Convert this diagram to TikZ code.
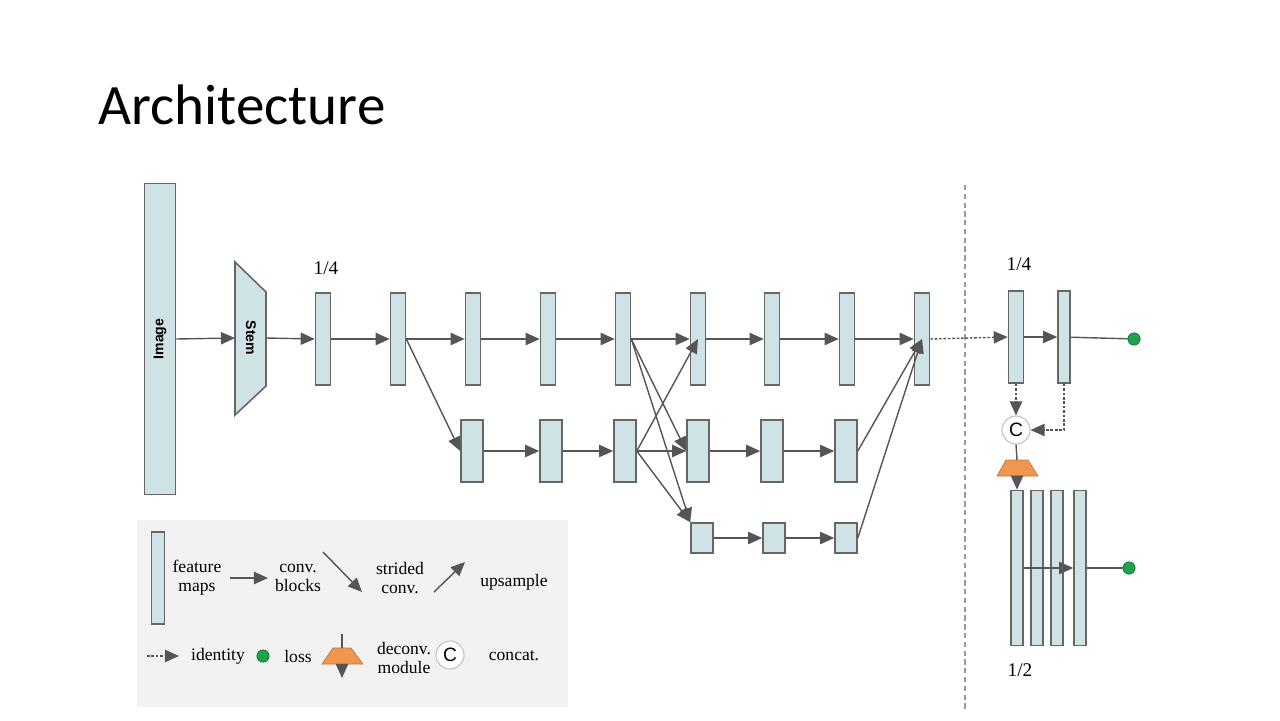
\documentclass[tikz,border=0pt]{standalone}
\usepackage{fontspec}
\setmainfont{Liberation Serif}
\newfontfamily\titlefont{Carlito}
\newfontfamily\sansf{Liberation Sans}
\usetikzlibrary{arrows.meta,shapes.geometric}
\definecolor{fm}{HTML}{CFE3E5}
\definecolor{ln}{HTML}{555555}
\definecolor{bd}{HTML}{666666}
\definecolor{org}{HTML}{F0964E}
\definecolor{grn}{HTML}{1FA34A}
\begin{document}
\begin{tikzpicture}[x=0.02cm,y=-0.02cm,
 fmap/.style={draw=bd,fill=fm,line width=0.9pt,inner sep=0,minimum width=#1*0.02cm},
 h/.style={minimum height=#1*0.02cm},
 ar/.style={draw=ln,line width=0.8pt,-{Triangle[length=8pt,width=7pt]}},
 dar/.style={ar,dash pattern=on 1.5pt off 1pt},
 dot/.style={circle,fill=grn,draw=grn!70!black,inner sep=0,minimum size=7pt},
 cc/.style={circle,draw=fm!70!gray,fill=white,line width=0.6pt,minimum size=28*0.02cm,inner sep=0,font=\sansf\fontsize{11}{11}\selectfont},
 lbl/.style={font=\fontsize{10}{11}\selectfont,align=center},
 trap/.style={fill=org,draw=org!80!black,line width=0.4pt}]
\useasboundingbox (0,0) rectangle (1280,720);
\node[anchor=base west,font=\titlefont\fontsize{32.5}{32.5}\selectfont,inner xsep=0] (title) at (98,124) {Architecture};
% image and stem
\node[fmap=31,h=311] (img) at (160,339) {};
\node[rotate=90,font=\sansf\bfseries\fontsize{8}{8}\selectfont] (imgt) at (img) {Image};
\draw[fill=fm,draw=bd,line width=0.9pt] (235,262) -- (266,292) -- (266,386) -- (235,415) -- cycle;
\coordinate (stemw) at (235,338); \coordinate (steme) at (266,338);
\node[rotate=270,font=\sansf\bfseries\fontsize{8}{8}\selectfont] (stemt) at (251,338) {Stem};
% row1
\foreach \n/\x in {1/323,2/398,3/473,4/548,5/623,6/698,7/772,8/847,9/922}
  \node[fmap=15,h=92] (f\n) at (\x,339) {};
\foreach \n/\x in {1/472,2/551,3/625,4/698,5/772,6/846}
  \node[fmap=22,h=62] (r\n) at (\x,451) {};
\foreach \n/\x in {1/702,2/774,3/846}
  \node[fmap=22,h=30] (s\n) at (\x,538) {};
\node[lbl,font=\fontsize{11}{11}\selectfont] (l14a) at (326,268) {1/4};
\draw[ar] (img.east) -- (stemw);
\draw[ar] (steme) -- (f1.west);
\foreach \a/\b in {1/2,2/3,3/4,4/5,5/6,6/7,7/8,8/9} \draw[ar] (f\a) -- (f\b.west);
\foreach \a/\b in {1/2,2/3,3/4,4/5,5/6} \draw[ar] (r\a) -- (r\b.west);
\foreach \a/\b in {1/2,2/3} \draw[ar] (s\a) -- (s\b.west);
\draw[ar] (f2.east) -- (r1.west);
\draw[ar] (f5.east) -- (r4.west);
\draw[ar] (f5.east) -- (s1.north west);
\draw[ar] (r3.east) -- (f6.center);
\draw[ar] (r3.east) -- (s1.north west);
\draw[ar] (r6.east) -- (f9.center);
\draw[ar] (s3.east) -- (f9.center);
% divider
\draw[densely dashed,draw=gray!80,line width=0.6pt] (965,185) coordinate (d1) -- (965,710) coordinate (d2);
% right
\node[fmap=15,h=92] (g1) at (1016,337) {};
\node[fmap=12,h=92] (g2) at (1064,337) {};
\node[lbl,font=\fontsize{11}{11}\selectfont] (l14b) at (1019,264) {1/4};
\draw[dar] (f9.east) -- (g1.west);
\draw[ar] (g1) -- (g2.west);
\node[dot] (e1) at (1134,339) {};
\draw[draw=ln,line width=0.8pt] (g2) -- (e1);
\node[cc] (c1) at (1016,430) {C};
\draw[dar] (g1.south) -- (c1.north);
\draw[dar] (g2.south) |- (c1.east);
\draw[trap] (1006,460) -- (1028,460) -- (1038,476) -- (997,476) -- cycle;
\coordinate (dcn) at (1017,460); \coordinate (dcs) at (1017,476);
\draw[draw=ln,line width=0.8pt] (c1.south) -- (dcn);
\foreach \n/\x in {1/1017,2/1037,3/1057,4/1080}
  \node[fmap=12,h=155] (t\n) at (\x,568) {};
\draw[ar] (dcs) -- (t1.north);
\draw[ar] (t1.east) -- (t4.west);
\node[dot] (e2) at (1129,568) {};
\draw[draw=ln,line width=0.8pt] (t4.east) -- (e2);
\node[lbl,font=\fontsize{11}{11}\selectfont] (l12) at (1020,670) {1/2};
% legend
\node[fill=black!5,minimum width=431*0.02cm,minimum height=187*0.02cm,inner sep=0] (leg) at (352.5,613.5) {};
\node[fmap=13,h=92] (lf) at (158,578) {};
\node[lbl] (t1l) at (197,578) {feature\\maps};
\coordinate (a1) at (230,578); \coordinate (a2) at (268,578);
\draw[ar] (a1) -- (a2);
\node[lbl] (t2l) at (298,578) {conv.\\blocks};
\coordinate (b1) at (323,552); \coordinate (b2) at (362,592);
\draw[ar] (b1) -- (b2);
\node[lbl] (t3l) at (400,578) {strided\\conv.};
\coordinate (u1) at (434,592); \coordinate (u2) at (465,562);
\draw[ar] (u1) -- (u2);
\node[lbl] (t4l) at (514,582) {upsample};
\coordinate (i1) at (147,656); \coordinate (i2) at (179,656);
\draw[dar] (i1) -- (i2);
\node[lbl] (t5l) at (218,656) {identity};
\node[dot] (ld) at (263,656) {};
\node[lbl] (t6l) at (298,656) {loss};
\draw[trap] (333,648) -- (351,648) -- (363,664) -- (322,664) -- cycle;
\coordinate (v1) at (342,634); \coordinate (v2) at (342,678);
\coordinate (ldn) at (342,648); \coordinate (lds) at (342,664);
\draw[draw=ln,line width=0.8pt] (v1) -- (ldn);
\draw[ar] (lds) -- (v2);
\node[lbl] (t7l) at (404,658) {deconv.\\module};
\node[cc] (lc) at (450,655) {C};
\node[lbl] (t8l) at (514,656) {concat.};
\end{tikzpicture}
\end{document}
